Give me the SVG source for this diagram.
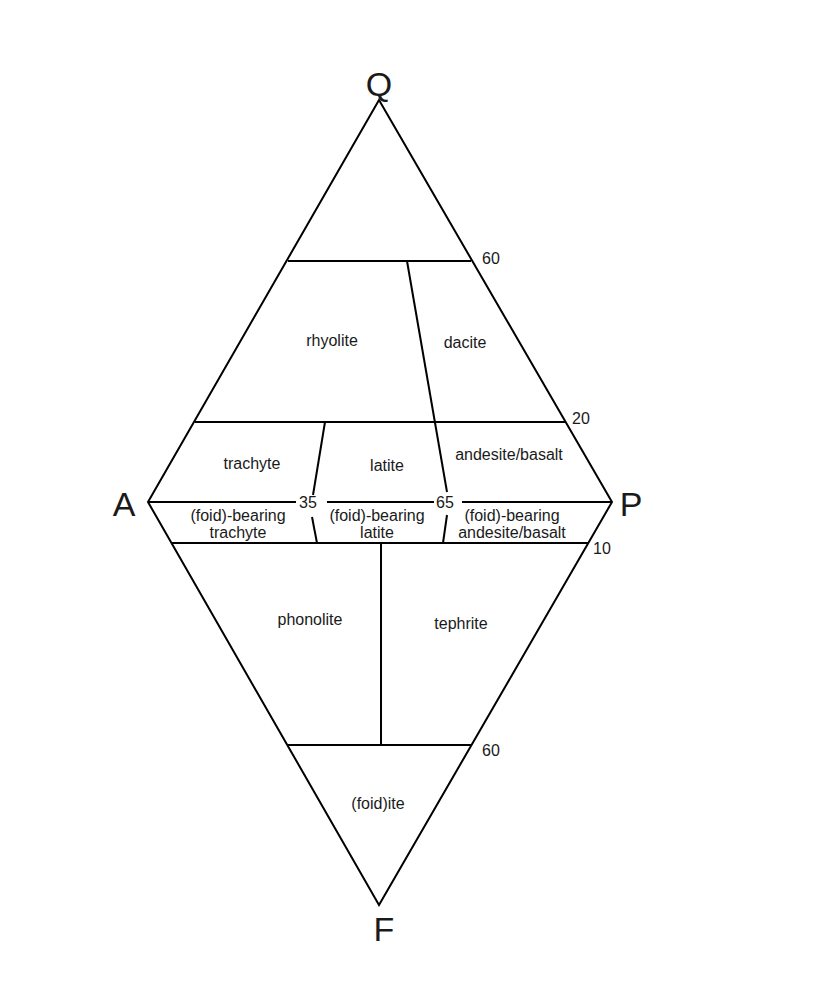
<svg xmlns="http://www.w3.org/2000/svg" width="817" height="985" viewBox="0 0 817 985">
<style>
.l{stroke:#000;stroke-width:2;fill:none}
text{font-family:"Liberation Sans",Arial,sans-serif;fill:#1a1a1a}
.s{font-size:16px;text-anchor:middle}
.n{font-size:16px}
.b{font-size:34px;text-anchor:middle}
</style>
<rect width="817" height="985" fill="#fff"/>
<g id="connectors">
<polygon class="l" points="379,100 612,502 379,905 148,502"/>
<line class="l" x1="148" y1="502" x2="296" y2="502"/>
<line class="l" x1="327" y1="502" x2="434" y2="502"/>
<line class="l" x1="462" y1="502" x2="612" y2="502"/>
<line class="l" x1="288" y1="261" x2="471" y2="261"/>
<line class="l" x1="195" y1="422" x2="565" y2="422"/>
<line class="l" x1="172" y1="543" x2="588" y2="543"/>
<line class="l" x1="288" y1="745" x2="471" y2="745"/>
<line class="l" x1="407" y1="261" x2="447" y2="492"/>
<line class="l" x1="447" y1="515" x2="443" y2="543"/>
<line class="l" x1="325" y1="422" x2="313" y2="495"/>
<line class="l" x1="312" y1="517" x2="317" y2="543"/>
<line class="l" x1="381" y1="543" x2="381" y2="745"/>
</g>
<g id="Q"><text class="b" x="379" y="96">Q</text></g>
<g id="A"><text class="b" x="124" y="516">A</text></g>
<g id="P"><text class="b" x="631" y="516">P</text></g>
<g id="F"><text class="b" x="384" y="941">F</text></g>
<g id="ticks">
<text class="n" x="482" y="264">60</text>
<text class="n" x="572" y="424">20</text>
<text class="n" x="593" y="554">10</text>
<text class="n" x="482" y="756">60</text>
<text class="n" x="299" y="508">35</text>
<text class="n" x="436" y="508">65</text>
</g>
<g id="rhyolite"><text class="s" x="332" y="346">rhyolite</text></g>
<g id="dacite"><text class="s" x="465" y="348">dacite</text></g>
<g id="trachyte"><text class="s" x="252" y="469">trachyte</text></g>
<g id="latite"><text class="s" x="387" y="471">latite</text></g>
<g id="andesite"><text class="s" x="509" y="460">andesite/basalt</text></g>
<g id="fb-trachyte"><text class="s" x="238" y="521">(foid)-bearing</text><text class="s" x="238" y="538">trachyte</text></g>
<g id="fb-latite"><text class="s" x="377" y="521">(foid)-bearing</text><text class="s" x="377" y="538">latite</text></g>
<g id="fb-andesite"><text class="s" x="512" y="521">(foid)-bearing</text><text class="s" x="512" y="538">andesite/basalt</text></g>
<g id="phonolite"><text class="s" x="310" y="625">phonolite</text></g>
<g id="tephrite"><text class="s" x="461" y="629">tephrite</text></g>
<g id="foidite"><text class="s" x="378" y="809">(foid)ite</text></g>
</svg>
